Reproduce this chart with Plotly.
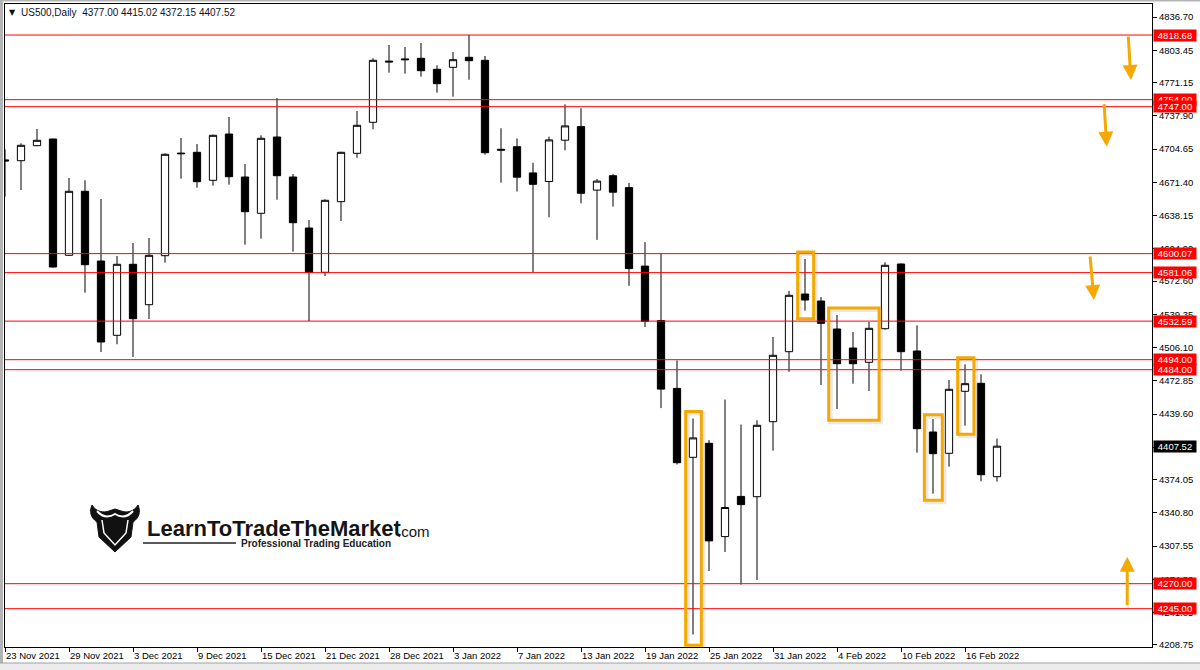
import plotly.graph_objects as go
from datetime import datetime

# ---------------- data ----------------
dates = ["2021-11-23", "2021-11-24", "2021-11-25", "2021-11-26", "2021-11-29", "2021-11-30",
         "2021-12-01", "2021-12-02", "2021-12-03", "2021-12-06", "2021-12-07", "2021-12-08",
         "2021-12-09", "2021-12-10", "2021-12-13", "2021-12-14", "2021-12-15", "2021-12-16",
         "2021-12-17", "2021-12-20", "2021-12-21", "2021-12-22", "2021-12-23", "2021-12-27",
         "2021-12-28", "2021-12-29", "2021-12-30", "2021-12-31", "2022-01-03", "2022-01-04",
         "2022-01-05", "2022-01-06", "2022-01-07", "2022-01-10", "2022-01-11", "2022-01-12",
         "2022-01-13", "2022-01-14", "2022-01-17", "2022-01-18", "2022-01-19", "2022-01-20",
         "2022-01-21", "2022-01-24", "2022-01-25", "2022-01-26", "2022-01-27", "2022-01-28",
         "2022-01-31", "2022-02-01", "2022-02-02", "2022-02-03", "2022-02-04", "2022-02-07",
         "2022-02-08", "2022-02-09", "2022-02-10", "2022-02-11", "2022-02-14", "2022-02-15",
         "2022-02-16", "2022-02-17", "2022-02-18"]

opens = [4693.8, 4693.0, 4708.0, 4714.7, 4598.4, 4662.4, 4592.7, 4518.4, 4589.4, 4549.0,
         4598.0, 4700.6, 4701.4, 4673.4, 4719.7, 4676.7, 4640.4, 4716.7, 4676.7, 4625.7,
         4581.4, 4652.0, 4700.4, 4731.4, 4792.6, 4794.8, 4795.4, 4784.4, 4786.4, 4796.4,
         4793.4, 4704.4, 4707.0, 4680.8, 4672.2, 4713.5, 4727.1, 4663.6, 4678.0, 4666.1,
         4587.6, 4533.1, 4465.3, 4396.4, 4410.4, 4317.1, 4357.3, 4357.0, 4432.0, 4502.0,
         4559.7, 4552.7, 4524.7, 4505.7, 4491.4, 4525.0, 4589.7, 4502.7, 4421.7, 4400.4,
         4462.4, 4470.4, 4377.00]
highs = [4704.4, 4710.4, 4724.7, 4715.0, 4675.7, 4673.4, 4654.7, 4597.7, 4610.7, 4615.7,
         4700.4, 4715.7, 4709.7, 4719.0, 4736.7, 4689.7, 4718.4, 4755.7, 4679.7, 4633.7,
         4654.4, 4702.0, 4742.7, 4795.4, 4808.7, 4806.7, 4810.7, 4788.4, 4801.7, 4818.68,
         4797.7, 4725.4, 4715.3, 4690.9, 4717.1, 4749.4, 4745.4, 4674.7, 4679.8, 4670.8,
         4611.6, 4600.1, 4493.3, 4435.2, 4413.6, 4454.2, 4429.1, 4433.4, 4516.7, 4562.7,
         4594.7, 4556.7, 4538.7, 4521.7, 4531.7, 4591.4, 4590.4, 4528.4, 4434.7, 4473.7,
         4489.4, 4479.4, 4415.02]
lows = [4657.0, 4663.7, 4707.5, 4586.0, 4597.7, 4561.0, 4501.7, 4509.4, 4496.7, 4534.7,
        4591.0, 4675.0, 4666.0, 4668.0, 4669.0, 4609.0, 4615.0, 4654.0, 4602.0, 4532.7,
        4577.7, 4632.7, 4696.0, 4724.4, 4781.0, 4780.0, 4777.0, 4761.0, 4757.0, 4774.0,
        4699.0, 4671.0, 4662.2, 4581.5, 4636.4, 4703.4, 4650.4, 4613.8, 4647.1, 4567.9,
        4526.6, 4445.6, 4389.2, 4219.2, 4282.7, 4301.7, 4269.1, 4273.7, 4403.0, 4482.0,
        4543.0, 4468.7, 4444.7, 4470.0, 4462.7, 4524.0, 4483.0, 4401.0, 4360.0, 4387.0,
        4428.0, 4372.4, 4372.15]
closes = [4692.8, 4708.4, 4713.4, 4586.7, 4662.4, 4589.0, 4511.7, 4589.4, 4535.0, 4598.4,
          4699.4, 4700.0, 4672.0, 4718.4, 4677.0, 4642.0, 4715.4, 4678.0, 4631.0, 4581.4,
          4653.4, 4701.4, 4728.4, 4793.4, 4791.8, 4794.0, 4783.0, 4770.0, 4794.0, 4793.0,
          4701.0, 4703.6, 4676.5, 4669.4, 4713.8, 4727.8, 4660.4, 4672.6, 4661.5, 4585.1,
          4532.4, 4464.6, 4391.0, 4415.8, 4312.8, 4346.2, 4349.1, 4428.4, 4498.4, 4558.4,
          4553.7, 4530.4, 4490.0, 4490.0, 4525.4, 4588.4, 4502.0, 4425.0, 4400.0, 4464.4,
          4470.0, 4379.0, 4407.52]

x_tick_labels = ["23 Nov 2021", "29 Nov 2021", "3 Dec 2021", "9 Dec 2021", "15 Dec 2021",
                 "21 Dec 2021", "28 Dec 2021", "3 Jan 2022", "7 Jan 2022", "13 Jan 2022",
                 "19 Jan 2022", "25 Jan 2022", "31 Jan 2022", "4 Feb 2022", "10 Feb 2022",
                 "16 Feb 2022"]
y_tick_labels = ["4836.70", "4803.45", "4771.15", "4737.90", "4704.65", "4671.40", "4638.15",
                 "4604.90", "4572.60", "4539.35", "4506.10", "4472.85", "4439.60", "4406.35",
                 "4374.05", "4340.80", "4307.55", "4274.30", "4241.05", "4208.75"]

level_prices = [4818.68, 4754.00, 4747.00, 4600.07, 4581.06, 4532.59, 4494.00, 4484.00,
                4270.00, 4245.00]

# highlight boxes: (bar from, bar to, price low, price high)
highlight_boxes = [(42.54, 43.52, 4208.5, 4442.3),
                   (49.54, 50.54, 4535.0, 4601.7),
                   (51.48, 54.63, 4433.4, 4545.7),
                   (57.46, 58.58, 4353.4, 4439.0),
                   (59.54, 60.56, 4419.4, 4496.0)]
# arrows: (tail bar, tail price, head bar, head price)
arrows = [(70.20, 4818.7, 70.37, 4773.7),
          (68.69, 4751.0, 68.86, 4707.0),
          (67.81, 4598.7, 68.06, 4553.7),
          (70.14, 4247.0, 70.14, 4297.0)]

# ---------------- figure ----------------
W, H = 1200, 670
PL, PR, PT, PB = 5, 1152, 4, 647   # plot area in pixels
BAR_PX = 16.0
x_range = [0, (PR - PL) / BAR_PX]
y_range = [4836.70 - (PB - 17), 4836.70 + (17 - PT)]

idx = list(range(len(dates)))
labels_of = [f"{datetime.strptime(d, '%Y-%m-%d').day} {datetime.strptime(d, '%Y-%m-%d'):%b %Y}" for d in dates]
tickvals_x = [labels_of.index(t) for t in x_tick_labels]


def pxx(x):
    return (x - PL) / (PR - PL)


def pxy(y):
    return (PB - y) / (PB - PT)


fig = go.Figure()
fig.add_trace(go.Candlestick(
    x=idx, open=opens, high=highs, low=lows, close=closes,
    increasing=dict(line=dict(color="black", width=1), fillcolor="white"),
    decreasing=dict(line=dict(color="black", width=1), fillcolor="black"),
    whiskerwidth=0, hoverinfo="skip", showlegend=False,
))

shapes = []
# window frame bits
shapes.append(dict(type="rect", xref="paper", yref="paper", x0=pxx(0), x1=pxx(3), y0=pxy(670), y1=pxy(0),
                   fillcolor="#b4b4b4", line=dict(width=0), layer="below"))
shapes.append(dict(type="rect", xref="paper", yref="paper", x0=pxx(0), x1=pxx(1200), y0=pxy(670), y1=pxy(663),
                   fillcolor="#ececec", line=dict(width=0), layer="below"))
shapes.append(dict(type="line", xref="paper", yref="paper", x0=pxx(0), x1=pxx(1200), y0=pxy(663), y1=pxy(663),
                   line=dict(color="#a0a0a0", width=1), layer="below"))
shapes.append(dict(type="rect", xref="paper", yref="paper", x0=pxx(0), x1=pxx(1200), y0=pxy(1.5), y1=pxy(0),
                   fillcolor="#b4b4b4", line=dict(width=0), layer="below"))

for p in level_prices:
    shapes.append(dict(type="line", xref="paper", yref="y", x0=0, x1=1, y0=p, y1=p,
                       line=dict(color="#ff0000", width=1), layer="above"))

ORANGE = "#F5A800"
for (a, b, lo, hi) in highlight_boxes:
    shapes.append(dict(type="rect", xref="x", yref="y", x0=a + 0.13, x1=b + 0.13, y0=lo - 2.0, y1=hi - 2.0,
                       line=dict(color="rgba(150,150,150,0.22)", width=4), layer="above"))
    shapes.append(dict(type="rect", xref="x", yref="y", x0=a, x1=b, y0=lo, y1=hi,
                       line=dict(color=ORANGE, width=3), layer="above"))


def path(points):
    s = ""
    for cmd, pts in points:
        s += cmd
        s += " ".join(f"{pxx(x):.5f},{pxy(y):.5f}" for x, y in pts) + " "
    return s + "Z"


# logo bull shield
shield = [("M", [(92, 505)]),
          ("C", [(96, 512), (104, 513), (109, 511)]),
          ("L", [(115, 509)]),
          ("L", [(121, 511)]),
          ("C", [(126, 513), (134, 512), (138, 505)]),
          ("C", [(141, 512), (139, 518), (133, 522)]),
          ("L", [(131, 537)]),
          ("L", [(115, 552)]),
          ("L", [(99, 537)]),
          ("L", [(97, 522)]),
          ("C", [(91, 518), (89, 512), (92, 505)])]
shapes.append(dict(type="path", xref="paper", yref="paper", path=path(shield),
                   fillcolor="#111111", line=dict(color="#111111", width=1), layer="above"))
horns = "M" + f"{pxx(97):.5f},{pxy(511):.5f} C{pxx(103):.5f},{pxy(518):.5f} {pxx(110):.5f},{pxy(517):.5f} {pxx(115):.5f},{pxy(514):.5f} C{pxx(120):.5f},{pxy(517):.5f} {pxx(127):.5f},{pxy(518):.5f} {pxx(133):.5f},{pxy(511):.5f}"
shapes.append(dict(type="path", xref="paper", yref="paper", path=horns,
                   line=dict(color="white", width=2), layer="above"))
face = "M" + " L".join(f"{pxx(x):.5f},{pxy(y):.5f}" for x, y in [(102, 520), (104, 533), (115, 545), (126, 533), (128, 520)])
shapes.append(dict(type="path", xref="paper", yref="paper", path=face,
                   line=dict(color="white", width=1.5), layer="above"))
shapes.append(dict(type="line", xref="paper", yref="paper", x0=pxx(143), x1=pxx(236), y0=pxy(543), y1=pxy(543),
                   line=dict(color="#222222", width=1.5), layer="above"))

annotations = []
FONT = "Liberation Sans, Arial, sans-serif"
# header
annotations.append(dict(xref="paper", yref="paper", x=pxx(7), y=pxy(13), xanchor="left", yanchor="middle",
                        text="▼", showarrow=False, font=dict(family="DejaVu Sans", size=8, color="#111111")))
annotations.append(dict(xref="paper", yref="paper", x=pxx(19), y=pxy(13), xanchor="left", yanchor="middle",
                        text=f"US500,Daily  {opens[-1]:.2f} {highs[-1]:.2f} {lows[-1]:.2f} {closes[-1]:.2f}",
                        showarrow=False, font=dict(family=FONT, size=10, color="#101028")))
# price level labels
for p in level_prices:
    annotations.append(dict(xref="paper", yref="y", x=1, y=p, xanchor="left", yanchor="middle", xshift=1,
                            text=f"{p:.2f}", showarrow=False, bgcolor="#ff0000", borderpad=0,
                            width=42, height=11, font=dict(family=FONT, size=9.5, color="white")))
annotations.append(dict(xref="paper", yref="y", x=1, y=closes[-1], xanchor="left", yanchor="middle", xshift=1,
                        text=f"{closes[-1]:.2f}", showarrow=False, bgcolor="#000000", borderpad=0,
                        width=42, height=11, font=dict(family=FONT, size=9.5, color="white")))
# arrows
for (tx, ty, hx, hy) in arrows:
    annotations.append(dict(xref="x", yref="y", axref="x", ayref="y", x=hx, y=hy, ax=tx, ay=ty,
                            text="", showarrow=True, arrowhead=2, arrowsize=1, arrowwidth=3,
                            arrowcolor=ORANGE))
# logo text
annotations.append(dict(xref="paper", yref="paper", x=pxx(145), y=pxy(528), xanchor="left", yanchor="middle",
                        text="<b>LearnToTradeTheMarket</b>", showarrow=False,
                        font=dict(family=FONT, size=22, color="#151515")))
annotations.append(dict(xref="paper", yref="paper", x=pxx(395), y=pxy(531), xanchor="left", yanchor="middle",
                        text=".com", showarrow=False, font=dict(family=FONT, size=15, color="#151515")))
annotations.append(dict(xref="paper", yref="paper", x=pxx(239), y=pxy(543), xanchor="left", yanchor="middle",
                        text="<b>Professional Trading Education</b>", showarrow=False,
                        font=dict(family=FONT, size=10, color="#222222")))

fig.update_layout(
    width=W, height=H,
    margin=dict(l=PL, r=W - PR, t=PT, b=H - PB, pad=0),
    paper_bgcolor="white", plot_bgcolor="white",
    boxgap=0.35,
    shapes=shapes, annotations=annotations,
    showlegend=False,
    font=dict(family=FONT, size=9.5, color="black"),
    xaxis=dict(range=x_range, rangeslider=dict(visible=False), showgrid=False, zeroline=False,
               showline=True, mirror=True, linecolor="black", linewidth=1,
               ticks="outside", ticklen=4, tickcolor="black", tickwidth=1,
               tickmode="array", tickvals=tickvals_x, ticktext=x_tick_labels,
               ticklabelposition="outside right", tickfont=dict(family=FONT, size=9.5, color="black")),
    yaxis=dict(range=y_range, side="right", showgrid=False, zeroline=False,
               showline=True, mirror=True, linecolor="black", linewidth=1,
               ticks="outside", ticklen=4, tickcolor="black", tickwidth=1,
               tickmode="array", tickvals=[float(t) for t in y_tick_labels], ticktext=y_tick_labels,
               tickfont=dict(family=FONT, size=9.5, color="black")),
)

fig.write_html("out.html", config={"displayModeBar": False},
               post_script="document.body.style.margin='0';")
